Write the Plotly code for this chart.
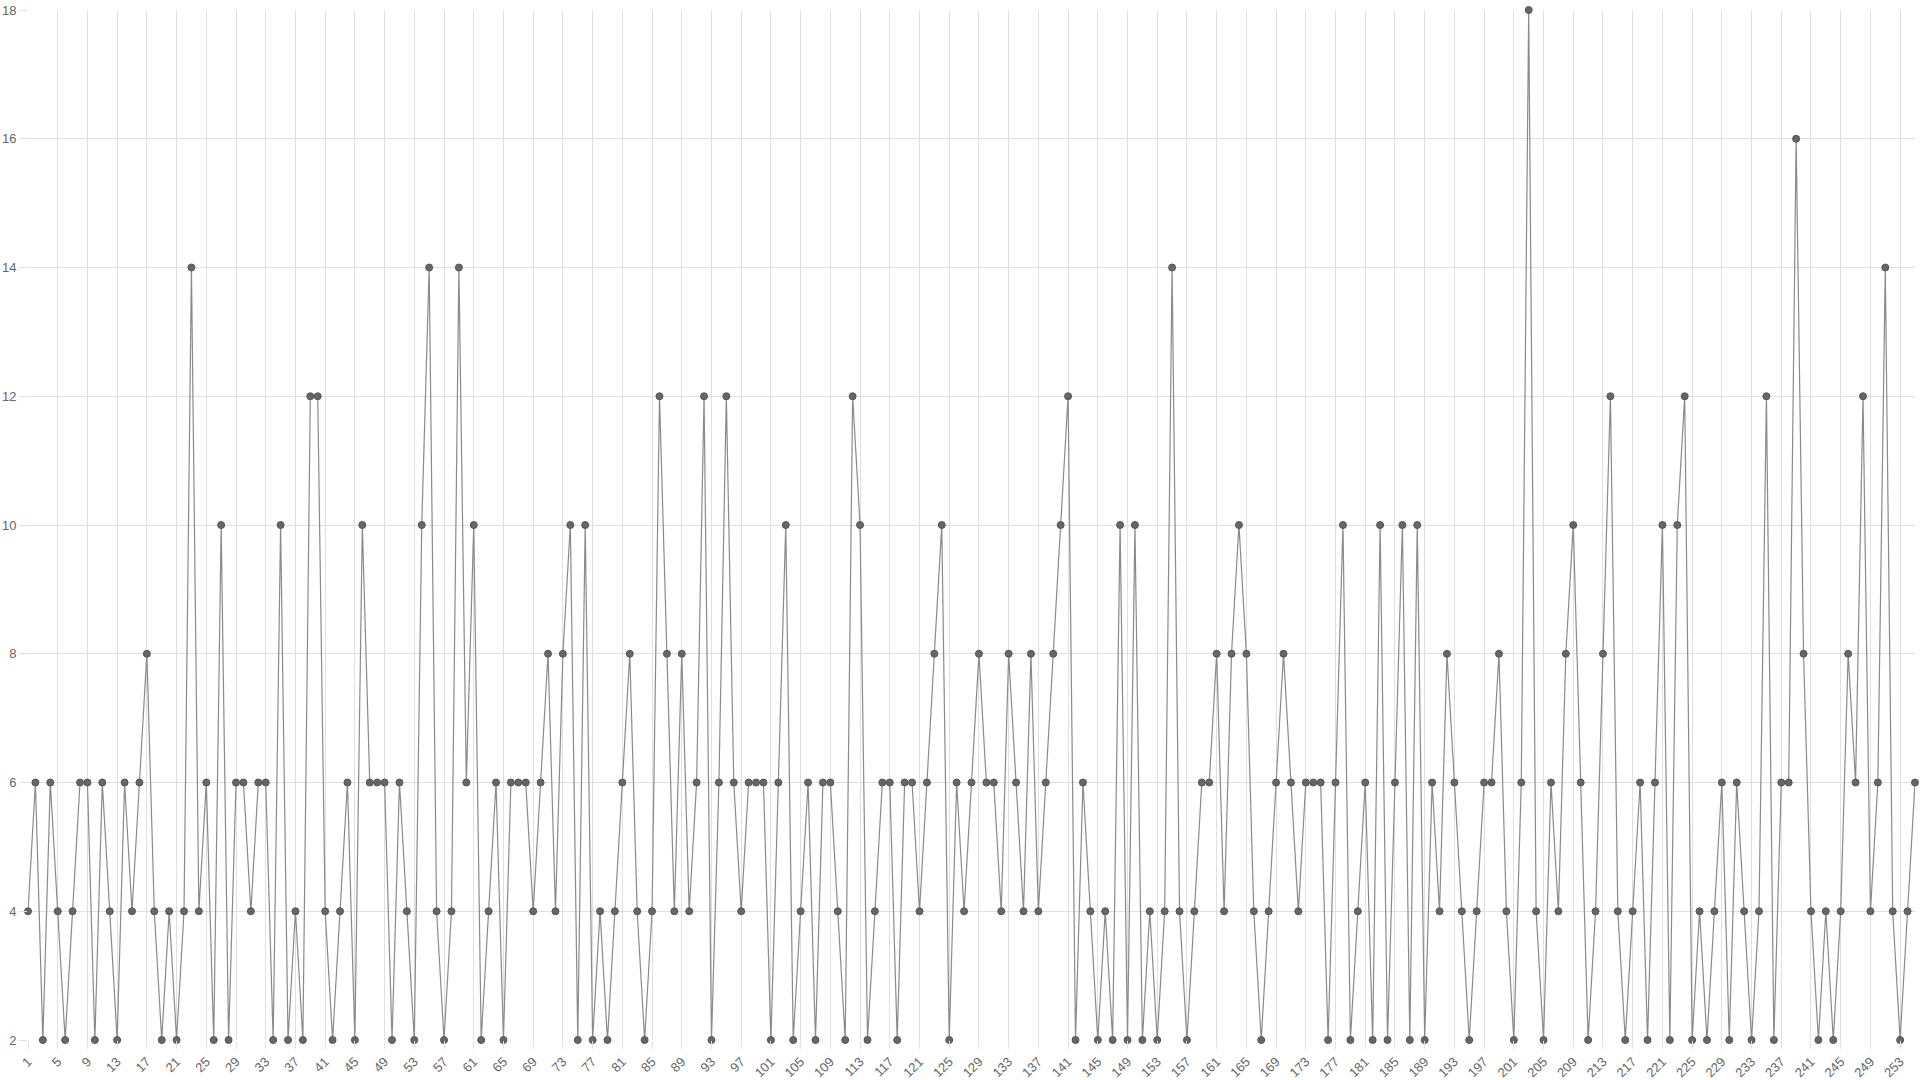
import plotly.graph_objects as go

# category index along the x axis (labels 1..255)
categories = list(range(1, 256))

values = [
    4, 6, 2, 6, 4, 2, 4, 6, 6, 2,
    6, 4, 2, 6, 4, 6, 8, 4, 2, 4,
    2, 4, 14, 4, 6, 2, 10, 2, 6, 6,
    4, 6, 6, 2, 10, 2, 4, 2, 12, 12,
    4, 2, 4, 6, 2, 10, 6, 6, 6, 2,
    6, 4, 2, 10, 14, 4, 2, 4, 14, 6,
    10, 2, 4, 6, 2, 6, 6, 6, 4, 6,
    8, 4, 8, 10, 2, 10, 2, 4, 2, 4,
    6, 8, 4, 2, 4, 12, 8, 4, 8, 4,
    6, 12, 2, 6, 12, 6, 4, 6, 6, 6,
    2, 6, 10, 2, 4, 6, 2, 6, 6, 4,
    2, 12, 10, 2, 4, 6, 6, 2, 6, 6,
    4, 6, 8, 10, 2, 6, 4, 6, 8, 6,
    6, 4, 8, 6, 4, 8, 4, 6, 8, 10,
    12, 2, 6, 4, 2, 4, 2, 10, 2, 10,
    2, 4, 2, 4, 14, 4, 2, 4, 6, 6,
    8, 4, 8, 10, 8, 4, 2, 4, 6, 8,
    6, 4, 6, 6, 6, 2, 6, 10, 2, 4,
    6, 2, 10, 2, 6, 10, 2, 10, 2, 6,
    4, 8, 6, 4, 2, 4, 6, 6, 8, 4,
    2, 6, 18, 4, 2, 6, 4, 8, 10, 6,
    2, 4, 8, 12, 4, 2, 4, 6, 2, 6,
    10, 2, 10, 12, 2, 4, 2, 4, 6, 2,
    6, 4, 2, 4, 12, 2, 6, 6, 16, 8,
    4, 2, 4, 2, 4, 8, 6, 12, 4, 6,
    14, 4, 2, 4, 6,
]

grid_color = "#e0e0e0"
tick_font = dict(family="Liberation Sans, Arial, sans-serif", size=13, color="#666666")

fig = go.Figure(
    go.Scatter(
        x=categories,
        y=values,
        mode="lines+markers",
        line=dict(color="#8a8a8a", width=1.2),
        marker=dict(size=7, color="#666666", line=dict(color="#555555", width=1)),
        cliponaxis=False,
        hoverinfo="x+y",
    )
)

fig.update_layout(
    width=1920,
    height=1080,
    template="plotly_white",
    plot_bgcolor="white",
    paper_bgcolor="white",
    showlegend=False,
    margin=dict(l=28, r=5, t=10, b=40),
    xaxis=dict(
        range=[1, 255],
        tick0=1,
        dtick=4,
        tickangle=-45,
        ticks="outside",
        ticklen=8,
        tickcolor=grid_color,
        showgrid=True,
        gridcolor=grid_color,
        gridwidth=1,
        zeroline=False,
        showline=False,
        automargin=False,
        tickfont=tick_font,
    ),
    yaxis=dict(
        range=[2, 18],
        tick0=2,
        dtick=2,
        ticks="outside",
        ticklen=8,
        tickcolor=grid_color,
        showgrid=True,
        gridcolor=grid_color,
        gridwidth=1,
        zeroline=False,
        showline=False,
        automargin=False,
        tickfont=tick_font,
    ),
)

# drop the default page margin so the 1920x1080 figure fills the window exactly
fig.write_html(
    "out.html",
    config={"displayModeBar": False},
    post_script="document.body.style.margin='0';",
)
